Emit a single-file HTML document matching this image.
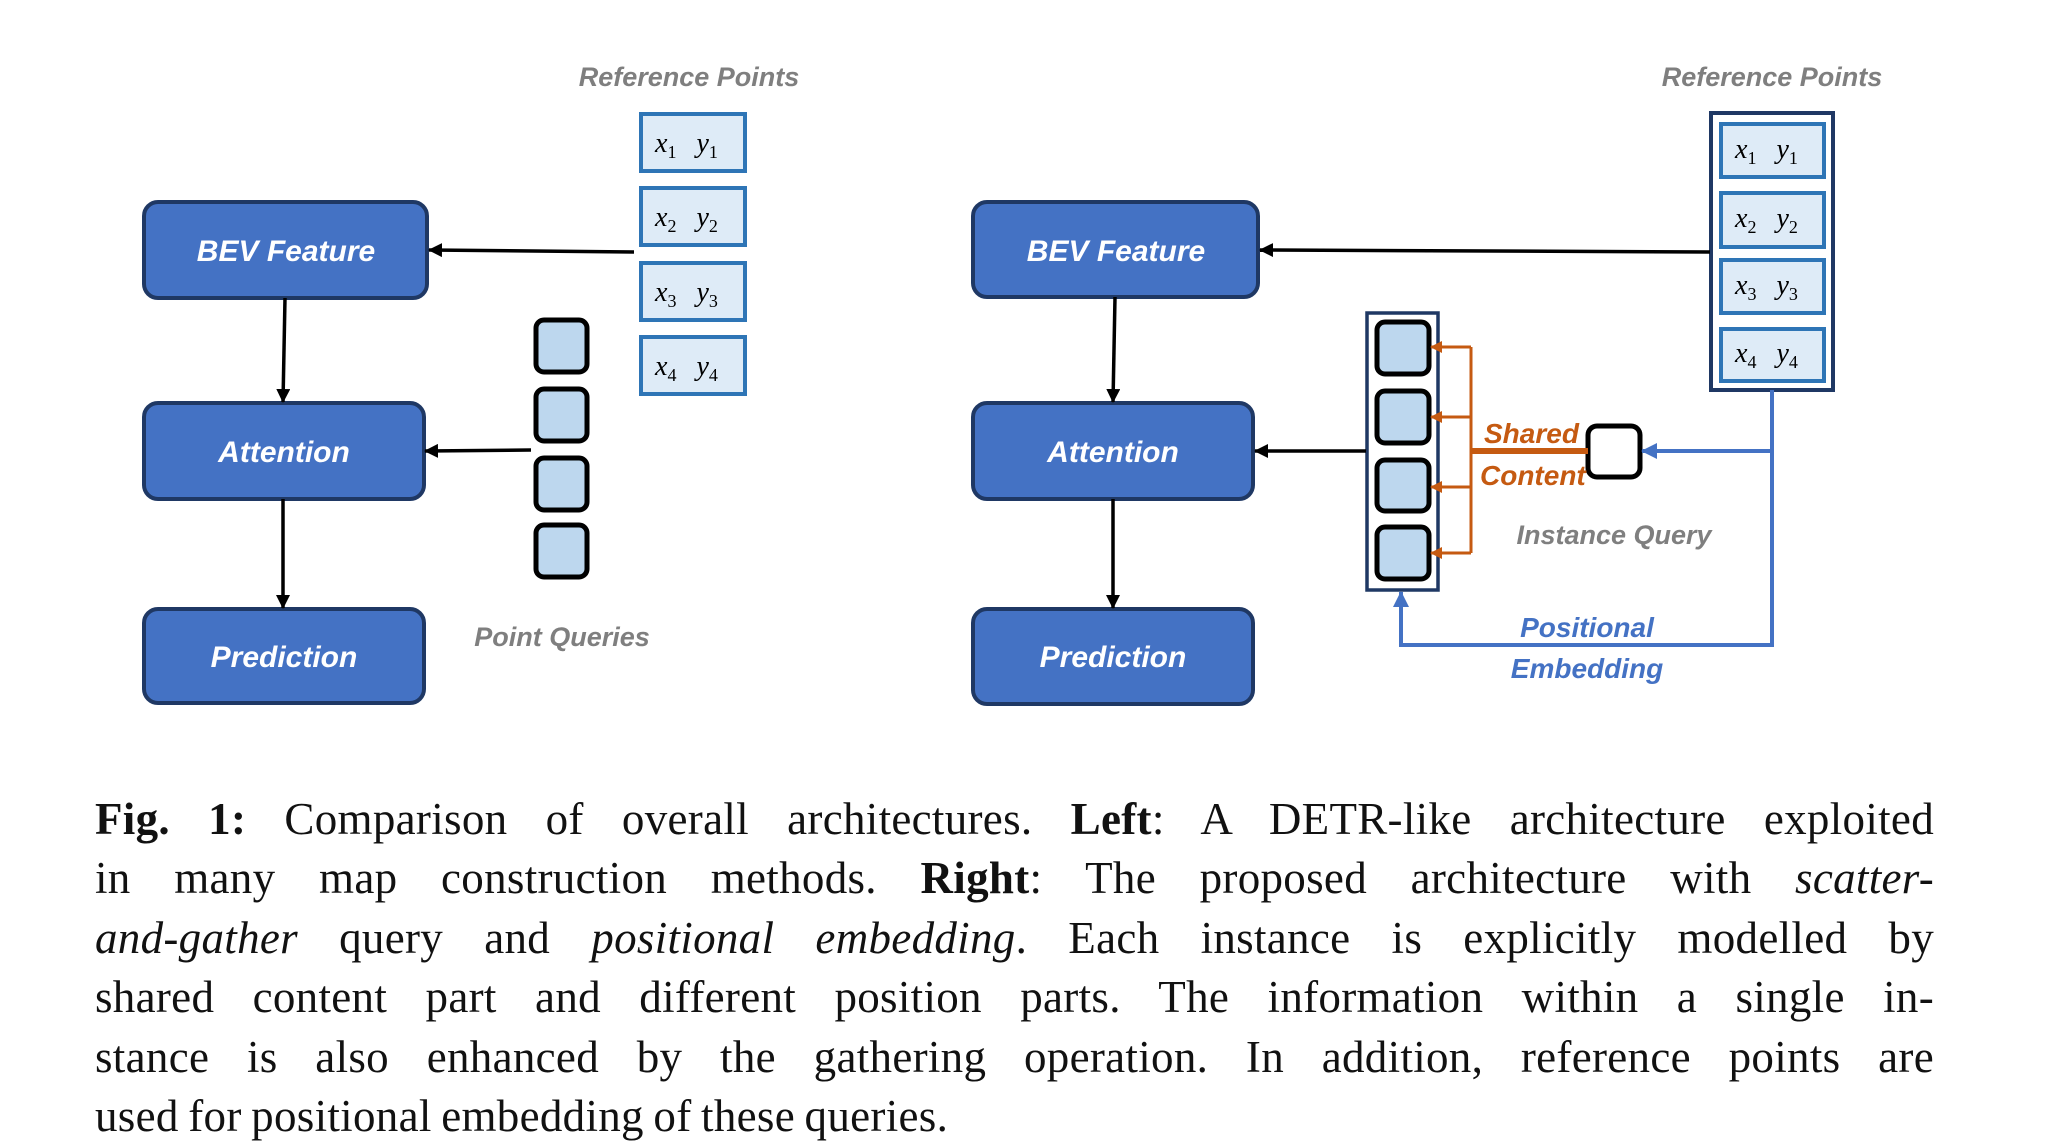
<!DOCTYPE html>
<html><head><meta charset="utf-8"><style>
body{margin:0;width:2046px;height:1148px;background:#fff;overflow:hidden;position:relative}
svg{position:absolute;left:0;top:0}
.cap{position:absolute;left:95px;width:1860px;font-family:"Liberation Serif",serif;font-size:45px;line-height:59px;text-align:justify;text-align-last:justify;white-space:nowrap;color:#111;letter-spacing:0.3px;word-spacing:-2px}
.cap.l{text-align-last:left}
</style></head><body>
<svg width="2046" height="1148" viewBox="0 0 2046 1148">
<defs>
<marker id="ak" markerWidth="14" markerHeight="14" refX="13" refY="7" orient="auto" markerUnits="userSpaceOnUse"><path d="M0,0L14,7L0,14z" fill="#000"/></marker>
<marker id="ao" markerWidth="12" markerHeight="12" refX="11" refY="6" orient="auto" markerUnits="userSpaceOnUse"><path d="M0,0L12,6L0,12z" fill="#c55a11"/></marker>
<marker id="abl" markerWidth="16" markerHeight="16" refX="15" refY="8" orient="auto" markerUnits="userSpaceOnUse"><path d="M0,0L16,8L0,16z" fill="#4472c4"/></marker>
</defs>
<g font-family="Liberation Sans,sans-serif" font-style="italic" font-weight="bold">
<text x="689" y="86" text-anchor="middle" font-size="27" fill="#7f7f7f">Reference Points</text>
<g fill="#deebf7" stroke="#2e75b6" stroke-width="4">
<rect x="641" y="114" width="104" height="57"/><rect x="641" y="188" width="104" height="57"/><rect x="641" y="263" width="104" height="57"/><rect x="641" y="337" width="104" height="57"/>
</g>
<g stroke="#1f3864" stroke-width="4" fill="#4472c4">
<rect x="144" y="202" width="283" height="96" rx="14"/>
<rect x="144" y="403" width="280" height="96" rx="14"/>
<rect x="144" y="609" width="280" height="94" rx="14"/>
</g>
<g fill="#fff" font-size="30" text-anchor="middle">
<text x="286" y="261">BEV Feature</text><text x="284" y="462">Attention</text><text x="284" y="667">Prediction</text>
</g>
<g fill="#bdd7ee" stroke="#000" stroke-width="5">
<rect x="536" y="320" width="51" height="52" rx="8"/><rect x="536" y="389" width="51" height="52" rx="8"/><rect x="536" y="458" width="51" height="52" rx="8"/><rect x="536" y="525" width="51" height="52" rx="8"/>
</g>
<text x="562" y="646" text-anchor="middle" font-size="27" fill="#7f7f7f">Point Queries</text>
<g stroke="#000" stroke-width="3.5" fill="none">
<line x1="634" y1="252" x2="429" y2="250" marker-end="url(#ak)"/>
<line x1="285" y1="298" x2="283" y2="402" marker-end="url(#ak)"/>
<line x1="283" y1="499" x2="283" y2="608" marker-end="url(#ak)"/>
<line x1="531" y1="450" x2="425" y2="451" marker-end="url(#ak)"/>
</g>
<text x="1772" y="86" text-anchor="middle" font-size="27" fill="#7f7f7f">Reference Points</text>
<rect x="1711" y="113" width="122" height="277" fill="#fff" stroke="#1f3864" stroke-width="4"/>
<g fill="#deebf7" stroke="#2e75b6" stroke-width="4">
<rect x="1721" y="124" width="103" height="53"/><rect x="1721" y="193" width="103" height="54"/><rect x="1721" y="260" width="103" height="53"/><rect x="1721" y="329" width="103" height="52"/>
</g>
<g fill="#4472c4" stroke="#1f3864" stroke-width="4">
<rect x="973" y="202" width="285" height="95" rx="14"/>
<rect x="973" y="403" width="280" height="96" rx="14"/>
<rect x="973" y="609" width="280" height="95" rx="14"/>
</g>
<g fill="#fff" font-size="30" text-anchor="middle">
<text x="1116" y="261">BEV Feature</text><text x="1113" y="462">Attention</text><text x="1113" y="667">Prediction</text>
</g>
<rect x="1367" y="313" width="71" height="277" fill="#fff" stroke="#1f3864" stroke-width="3.5"/>
<g fill="#bdd7ee" stroke="#000" stroke-width="5">
<rect x="1377" y="322" width="52" height="52" rx="8"/><rect x="1377" y="391" width="52" height="52" rx="8"/><rect x="1377" y="460" width="52" height="51" rx="8"/><rect x="1377" y="527" width="52" height="52" rx="8"/>
</g>
<rect x="1588" y="426" width="52" height="51" rx="9" fill="#fff" stroke="#000" stroke-width="5"/>
<g stroke="#c55a11" stroke-width="3" fill="none">
<line x1="1471" y1="347" x2="1471" y2="553"/>
<line x1="1471" y1="347" x2="1431" y2="347" marker-end="url(#ao)"/>
<line x1="1471" y1="417" x2="1431" y2="417" marker-end="url(#ao)"/>
<line x1="1471" y1="487" x2="1431" y2="487" marker-end="url(#ao)"/>
<line x1="1471" y1="553" x2="1431" y2="553" marker-end="url(#ao)"/>
<line x1="1471" y1="451" x2="1588" y2="451" stroke-width="6"/>
</g>
<g fill="#c55a11" font-size="28">
<text x="1484" y="443">Shared</text><text x="1480" y="485">Content</text>
</g>
<text x="1614" y="544" text-anchor="middle" font-size="27" fill="#7f7f7f">Instance Query</text>
<g stroke="#4472c4" stroke-width="4" fill="none">
<polyline points="1772,390 1772,645 1401,645 1401,592" marker-end="url(#abl)"/>
<line x1="1772" y1="451" x2="1642" y2="451" marker-end="url(#abl)"/>
</g>
<g fill="#4472c4" font-size="28" text-anchor="middle">
<text x="1587" y="637">Positional</text><text x="1587" y="678">Embedding</text>
</g>
<g stroke="#000" stroke-width="3.5" fill="none">
<line x1="1710" y1="252" x2="1260" y2="250" marker-end="url(#ak)"/>
<line x1="1115" y1="297" x2="1113" y2="402" marker-end="url(#ak)"/>
<line x1="1113" y1="499" x2="1113" y2="608" marker-end="url(#ak)"/>
<line x1="1366" y1="451" x2="1255" y2="451" marker-end="url(#ak)"/>
</g>
</g>
<g font-family="Liberation Serif,serif" font-style="italic" font-size="28" fill="#000">
<text x="655" y="152">x<tspan font-size="18" dy="6" font-style="normal">1</tspan><tspan dx="20" dy="-6">y</tspan><tspan font-size="18" dy="6" font-style="normal">1</tspan></text>
<text x="655" y="226">x<tspan font-size="18" dy="6" font-style="normal">2</tspan><tspan dx="20" dy="-6">y</tspan><tspan font-size="18" dy="6" font-style="normal">2</tspan></text>
<text x="655" y="301">x<tspan font-size="18" dy="6" font-style="normal">3</tspan><tspan dx="20" dy="-6">y</tspan><tspan font-size="18" dy="6" font-style="normal">3</tspan></text>
<text x="655" y="375">x<tspan font-size="18" dy="6" font-style="normal">4</tspan><tspan dx="20" dy="-6">y</tspan><tspan font-size="18" dy="6" font-style="normal">4</tspan></text>
<text x="1735" y="158">x<tspan font-size="18" dy="6" font-style="normal">1</tspan><tspan dx="20" dy="-6">y</tspan><tspan font-size="18" dy="6" font-style="normal">1</tspan></text>
<text x="1735" y="227">x<tspan font-size="18" dy="6" font-style="normal">2</tspan><tspan dx="20" dy="-6">y</tspan><tspan font-size="18" dy="6" font-style="normal">2</tspan></text>
<text x="1735" y="294">x<tspan font-size="18" dy="6" font-style="normal">3</tspan><tspan dx="20" dy="-6">y</tspan><tspan font-size="18" dy="6" font-style="normal">3</tspan></text>
<text x="1735" y="362">x<tspan font-size="18" dy="6" font-style="normal">4</tspan><tspan dx="20" dy="-6">y</tspan><tspan font-size="18" dy="6" font-style="normal">4</tspan></text>
</g>
</svg>
<div class="cap" style="top:790px;width:1839px"><b>Fig. 1:</b> Comparison of overall architectures. <b>Left</b>: A DETR-like architecture exploited</div>
<div class="cap" style="top:849px;width:1839px">in many map construction methods. <b>Right</b>: The proposed architecture with <i>scatter-</i></div>
<div class="cap" style="top:909px;width:1839px"><i>and-gather</i> query and <i>positional embedding</i>. Each instance is explicitly modelled by</div>
<div class="cap" style="top:968px;width:1839px">shared content part and different position parts. The information within a single in-</div>
<div class="cap" style="top:1028px;width:1839px">stance is also enhanced by the gathering operation. In addition, reference points are</div>
<div class="cap l" style="top:1087px;width:1839px">used for positional embedding of these queries.</div>
</body></html>
